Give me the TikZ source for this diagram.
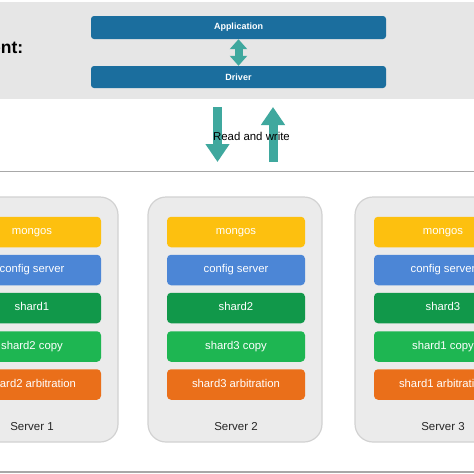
\documentclass[tikz,border=0pt]{standalone}
\usepackage{fontspec}
\setmainfont{Liberation Sans}
\usetikzlibrary{arrows.meta}
\definecolor{band}{HTML}{E6E6E6}
\definecolor{appblue}{HTML}{1B6E9E}
\definecolor{arrowteal}{HTML}{3FA89E}
\definecolor{srvfill}{HTML}{EBEBEB}
\definecolor{srvedge}{HTML}{D2D2D2}
\definecolor{mongoy}{HTML}{FDC00F}
\definecolor{cfgblue}{HTML}{4C86D6}
\definecolor{sharddk}{HTML}{11984A}
\definecolor{copygr}{HTML}{1EB652}
\definecolor{arborange}{HTML}{EA6F1A}
\definecolor{sepgray}{HTML}{A8A8A8}
\begin{document}
\begin{tikzpicture}[x=1pt,y=-1pt,
  appbox/.style={fill=appblue, rounded corners=3pt, minimum width=295pt, minimum height=23pt,
    inner sep=0pt, text=white, font=\bfseries\fontsize{9}{10}\selectfont},
  dblarrow/.style={draw=arrowteal, line width=8pt,
    {Triangle[width=17pt,length=10pt]}-{Triangle[width=17pt,length=10pt]}},
  rwarrow/.style={draw=arrowteal, line width=9pt, -{Triangle[width=23pt,length=18pt]}},
  sepline/.style={draw=sepgray, line width=1.3pt},
  serverbox/.style={fill=srvfill, draw=srvedge, line width=1.2pt, rounded corners=18pt,
    minimum width=174pt, minimum height=245pt, inner sep=0pt},
  inbox/.style={rounded corners=4pt, minimum width=138pt, minimum height=30.5pt, inner sep=0pt,
    text=white, text height=8pt, text depth=2.3pt, font=\fontsize{11.3}{13}\selectfont},
  srvlabel/.style={text=black!85, inner sep=0pt, font=\fontsize{11.5}{13}\selectfont},
  rwlabel/.style={text=black, inner sep=0pt, font=\fontsize{11.4}{13}\selectfont},
  clientlabel/.style={text=black, inner sep=0pt, anchor=east, font=\bfseries\fontsize{17.5}{19}\selectfont}
]
\useasboundingbox (0,0) rectangle (474,474);
\clip (0,0) rectangle (474,474);
\fill[white] (0,0) rectangle (474,474);
% client band
\fill[band] (0,2) rectangle (474,99);
\node[clientlabel] (client) at (23.5,47.5) {Client:};
\node[appbox] (app) at (238.5,27.5) {Application};
\node[appbox, minimum height=22pt] (drv) at (238.5,77) {Driver};
\draw[dblarrow] (app.south) -- (drv.north);
% read and write
\coordinate (rdtop) at (217.5,107);
\coordinate (rdbot) at (217.5,162);
\coordinate (wrbot) at (273,162);
\coordinate (wrtop) at (273,107);
\draw[rwarrow] (rdtop) -- (rdbot);
\draw[rwarrow] (wrbot) -- (wrtop);
\node[rwlabel] (rw) at (251.5,136) {Read and write};
% separators
\coordinate (sepAl) at (0,171.5);
\coordinate (sepAr) at (474,171.5);
\coordinate (sepBl) at (0,472);
\coordinate (sepBr) at (474,472);
\draw[sepline] (sepAl) -- (sepAr);
\draw[sepline] (sepBl) -- (sepBr);
% servers
\foreach \i/\bx/\sa/\sb/\sc in {1/-56/shard1/shard2 copy/shard2 arbitration,
                                2/148/shard2/shard3 copy/shard3 arbitration,
                                3/355/shard3/shard1 copy/shard1 arbitration}{
  \node[serverbox] (srv\i) at (\bx+87,319.5) {};
  \node[inbox, fill=mongoy] (mongos\i) at (\bx+88,232) {mongos};
  \node[inbox, fill=cfgblue] (cfg\i) at (\bx+88,270) {config server};
  \node[inbox, fill=sharddk] (shard\i) at (\bx+88,308) {\sa};
  \node[inbox, fill=copygr] (copy\i) at (\bx+88,346.5) {\sb};
  \node[inbox, fill=arborange] (arb\i) at (\bx+88,384.5) {\sc};
  \node[srvlabel] (lbl\i) at (\bx+88,427) {Server \i};
}
\end{tikzpicture}
\end{document}
